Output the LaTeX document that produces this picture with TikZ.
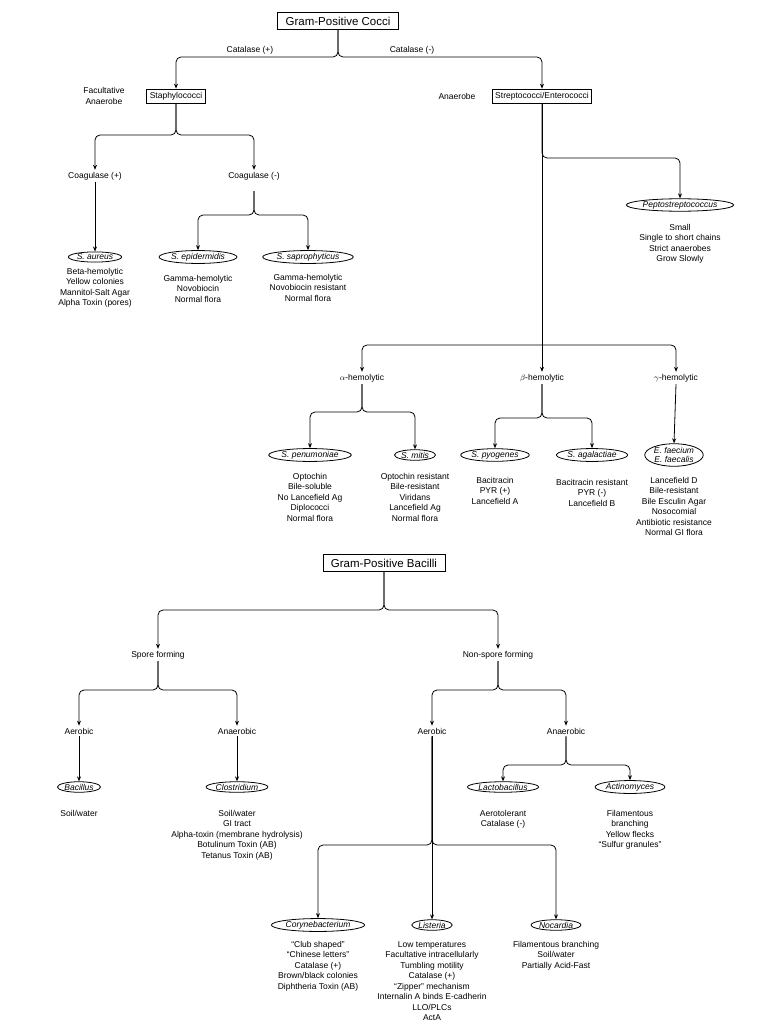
\documentclass[tikz,border=0pt]{standalone}
\usepackage{fontspec}
\setmainfont{Liberation Sans}
\usetikzlibrary{shapes.geometric,arrows.meta}
\begin{document}
\begin{tikzpicture}[x=1pt,y=-1pt,
  every node/.style={font=\fontsize{8.5}{10.5}\selectfont, inner sep=2pt, align=center},
  boxn/.style={draw, thick, inner sep=3pt},
  titlebox/.style={draw, thick, inner xsep=8pt, inner ysep=4pt, font=\fontsize{11.5}{13}\selectfont},
  ell/.style={draw, thick, ellipse, inner sep=0.6pt, font=\fontsize{8.5}{9.5}\selectfont\itshape},
  conn/.style={thick, rounded corners=5pt, -{Stealth[length=5pt,width=4pt]}},
  plain/.style={thick, rounded corners=5pt},
  txt/.style={anchor=north}]
\useasboundingbox (0,0) rectangle (768,1024);
% ---------- Cocci ----------
\node[titlebox] (gpc) at (338,21) {Gram-Positive Cocci};
\node[boxn] (staph) at (176,96) {Staphylococci};
\node (fac) at (104,96) {Facultative\\Anaerobe};
\node[boxn] (strep) at (542,96) {Streptococci/Enterococci};
\node (anae) at (457,96) {Anaerobe};
\coordinate (f0) at (338,57);
\draw[conn] (gpc.south) -- (f0) -| (staph.north);
\draw[conn] (gpc.south) -- (f0) -| (strep.north);
\node at (250,50) {Catalase (+)};
\node at (412,50) {Catalase (-)};
\node (cp) at (95,176) {Coagulase (+)};
\node (cm) at (254,176) {Coagulase (-)};
\coordinate (f1) at (176,135);
\draw[conn] (staph.south) -- (f1) -| (cp.north);
\draw[conn] (staph.south) -- (f1) -| (cm.north);
\node[ell] (saur) at (95,257) {S. aureus};
\draw[conn] (cp.south) -- (saur.north);
\node[txt] at (95,266) {Beta-hemolytic\\Yellow colonies\\Mannitol-Salt Agar\\Alpha Toxin (pores)};
\node[ell] (sepi) at (198,257) {S. epidermidis};
\node[ell] (ssap) at (308,257) {S. saprophyticus};
\coordinate (f2) at (254,215);
\draw[conn] (cm.south)++(0,9) -- (f2) -| (sepi.north);
\draw[conn] (cm.south)++(0,9) -- (f2) -| (ssap.north);
\node[txt] at (198,273) {Gamma-hemolytic\\Novobiocin\\Normal flora};
\node[txt] at (308,272) {Gamma-hemolytic\\Novobiocin resistant\\Normal flora};
% Peptostreptococcus
\node[ell] (pep) at (680,205) {Peptostreptococcus};
\coordinate (f3) at (542,158);
\draw[conn] (strep.south) -- (f3) -| (pep.north);
\node[txt] at (680,222) {Small\\Single to short chains\\Strict anaerobes\\Grow Slowly};
% hemolysis
\node (ah) at (362,378) {$\alpha$-hemolytic};
\node (bh) at (542,378) {$\beta$-hemolytic};
\node (gh) at (676,378) {$\gamma$-hemolytic};
\coordinate (f4) at (542,345);
\draw[plain] (strep.south) -- (f4);
\draw[conn] (f4) -| (ah.north);
\draw[conn] (f4) -- (bh.north);
\draw[conn] (f4) -| (gh.north);
\node[ell] (spn) at (310,455) {S. penumoniae};
\node[ell] (smi) at (415,455) {S. mitis};
\node[ell] (spy) at (495,455) {S. pyogenes};
\node[ell] (sag) at (592,455) {S. agalactiae};
\node[ell, font=\fontsize{8.5}{8.5}\selectfont\itshape] (ef) at (674,455) {E. faecium\\E. faecalis};
\coordinate (f5) at (362,412);
\draw[conn] (ah.south) -- (f5) -| (spn.north);
\draw[conn] (ah.south) -- (f5) -| (smi.north);
\coordinate (f6) at (542,418);
\draw[conn] (bh.south) -- (f6) -| (spy.north);
\draw[conn] (bh.south) -- (f6) -| (sag.north);
\draw[conn] (gh.south) -- (ef.north);
\node[txt] at (310,471) {Optochin\\Bile-soluble\\No Lancefield Ag\\Diplococci\\Normal flora};
\node[txt] at (415,471) {Optochin resistant\\Bile-resistant\\Viridans\\Lancefield Ag\\Normal flora};
\node[txt] at (495,475) {Bacitracin\\PYR (+)\\Lancefield A};
\node[txt] at (592,477) {Bacitracin resistant\\PYR (-)\\Lancefield B};
\node[txt] at (674,475) {Lancefield D\\Bile-resistant\\Bile Esculin Agar\\Nosocomial\\Antibiotic resistance\\Normal GI flora};
% ---------- Bacilli ----------
\node[titlebox] (gpb) at (384,563) {Gram-Positive Bacilli};
\node (sf) at (158,655) {Spore forming};
\node (nsf) at (498,655) {Non-spore forming};
\coordinate (g0) at (384,610);
\draw[conn] (gpb.south) -- (g0) -| (sf.north);
\draw[conn] (gpb.south) -- (g0) -| (nsf.north);
\node (ae1) at (79,731) {Aerobic};
\node (an1) at (237,731) {Anaerobic};
\coordinate (g1) at (158,690);
\draw[conn] (sf.south) -- (g1) -| (ae1.north);
\draw[conn] (sf.south) -- (g1) -| (an1.north);
\node (ae2) at (432,731) {Aerobic};
\node (an2) at (566,731) {Anaerobic};
\coordinate (g2) at (498,690);
\draw[conn] (nsf.south) -- (g2) -| (ae2.north);
\draw[conn] (nsf.south) -- (g2) -| (an2.north);
\node[ell] (bac) at (79,787) {Bacillus};
\node[ell] (clo) at (237,787) {Clostridium};
\draw[conn] (ae1.south) -- (bac.north);
\draw[conn] (an1.south) -- (clo.north);
\node[txt] at (79,808) {Soil/water};
\node[txt] at (237,808) {Soil/water\\GI tract\\Alpha-toxin (membrane hydrolysis)\\Botulinum Toxin (AB)\\Tetanus Toxin (AB)};
\node[ell] (lac) at (503,787) {Lactobacillus};
\node[ell] (act) at (630,787) {Actinomyces};
\coordinate (g3) at (566,765);
\draw[conn] (an2.south) -- (g3) -| (lac.north);
\draw[conn] (an2.south) -- (g3) -| (act.north);
\node[txt] at (503,808) {Aerotolerant\\Catalase (-)};
\node[txt] at (630,808) {Filamentous\\branching\\Yellow flecks\\``Sulfur granules''};
\node[ell] (cor) at (318,925) {Corynebacterium};
\node[ell] (lis) at (432,925) {Listeria};
\node[ell] (noc) at (556,925) {Nocardia};
\coordinate (g4) at (432,845);
\draw[conn] (ae2.south) -- (g4) -| (cor.north);
\draw[conn] (ae2.south) -- (lis.north);
\draw[conn] (ae2.south) -- (g4) -| (noc.north);
\node[txt] at (318,939) {``Club shaped''\\``Chinese letters''\\Catalase (+)\\Brown/black colonies\\Diphtheria Toxin (AB)};
\node[txt] at (432,939) {Low temperatures\\Facultative intracellularly\\Tumbling motility\\Catalase (+)\\``Zipper'' mechanism\\Internalin A binds E-cadherin\\LLO/PLCs\\ActA};
\node[txt] at (556,939) {Filamentous branching\\Soil/water\\Partially Acid-Fast};
\end{tikzpicture}
\end{document}
